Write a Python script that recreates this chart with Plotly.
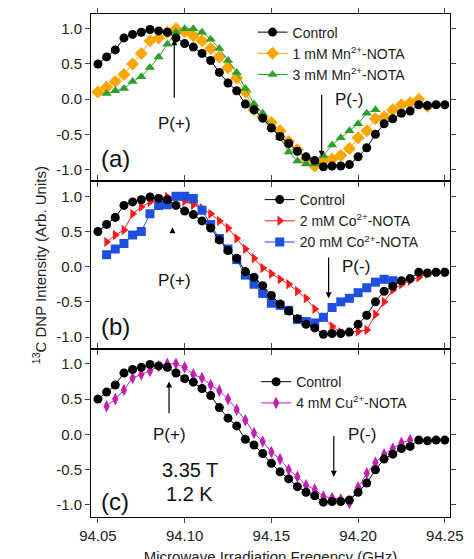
import plotly.graph_objects as go

freq_ctrl = [round(94.05 + 0.005*i, 3) for i in range(41)]
ctrl = [0.5,0.6,0.7,0.87,0.92,0.95,0.99,0.97,0.95,0.87,0.79,0.74,0.65,0.55,0.38,0.23,0.12,-0.07,-0.15,-0.27,
        -0.41,-0.53,-0.63,-0.74,-0.82,-0.87,-0.96,-0.95,-0.95,-0.93,-0.82,-0.69,-0.5,-0.35,-0.28,-0.2,-0.17,-0.08,-0.09,-0.08,-0.08]

mn1 = [0.1,0.17,0.25,0.35,0.5,0.65,0.83,0.87,0.95,1.0,0.96,0.9,0.83,0.72,0.6,0.45,0.3,0.1,-0.15,-0.25,
       -0.33,-0.45,-0.6,-0.72,-0.85,-0.95,-0.88,-0.85,-0.8,-0.7,-0.55,-0.45,-0.28,-0.25,-0.15,-0.08,-0.05,0.0,-0.1]
freq_mn1 = freq_ctrl[:len(mn1)]

mn3 = [0.08,0.12,0.15,0.25,0.32,0.45,0.6,0.78,0.95,1.0,1.0,0.95,0.85,0.72,0.55,0.38,0.15,-0.07,-0.2,-0.4,
       -0.55,-0.75,-0.88,-0.92,-0.92,-0.8,-0.65,-0.55,-0.45,-0.35,-0.2,-0.15]
freq_mn3 = freq_ctrl[1:1+len(mn3)]

co2 = [0.35,0.45,0.52,0.75,0.85,0.92,0.97,0.99,0.97,0.93,0.88,0.83,0.75,0.65,0.55,0.4,0.25,0.12,-0.02,-0.1,
       -0.18,-0.25,-0.35,-0.45,-0.6,-0.72,-0.85,-0.93,-0.93,-0.92,-0.9,-0.68,-0.5,-0.33,-0.25,-0.2,-0.15,-0.1,-0.08,-0.08]
freq_co2 = freq_ctrl[1:1+len(co2)]

co20 = [0.17,0.25,0.33,0.45,0.5,0.75,0.87,0.88,1.0,1.0,0.97,0.8,0.6,0.4,0.25,0.1,-0.12,-0.25,-0.38,-0.52,
        -0.55,-0.62,-0.75,-0.78,-0.8,-0.72,-0.58,-0.5,-0.45,-0.37,-0.3,-0.22,-0.18,-0.2]
freq_co20 = freq_ctrl[1:1+len(co20)]

cu = [0.4,0.5,0.63,0.8,0.85,0.9,0.97,1.0,1.0,0.95,0.85,0.8,0.7,0.62,0.5,0.35,0.2,0.02,-0.1,
      -0.25,-0.35,-0.5,-0.6,-0.72,-0.78,-0.88,-0.9,-0.92,-0.97,-0.75,-0.55,-0.4,-0.28,-0.2,-0.12,-0.08]
freq_cu = freq_ctrl[1:1+len(cu)]

fig = go.Figure()
def add(x, y, name, color, symbol, size, row_axis, legend, rank):
    fig.add_trace(go.Scatter(x=x, y=y, mode="lines+markers", name=name, legendrank=rank,
        line=dict(color=color, width=1), marker=dict(color=color, symbol=symbol, size=size),
        xaxis="x", yaxis=row_axis, legend=legend))

add(freq_mn1, mn1, "1 mM Mn<sup>2+</sup>-NOTA", "#FFA500", "diamond", 10, "y", "legend", 2)
add(freq_mn3, mn3, "3 mM Mn<sup>2+</sup>-NOTA", "#2CA02C", "triangle-up", 9, "y", "legend", 3)
add(freq_ctrl, ctrl, "Control", "black", "circle", 9, "y", "legend", 1)
add(freq_co2, co2, "2 mM Co<sup>2+</sup>-NOTA", "#FF1A1A", "triangle-right", 9, "y2", "legend2", 2)
add(freq_co20, co20, "20 mM Co<sup>2+</sup>-NOTA", "#1F4FE0", "square", 9, "y2", "legend2", 3)
add(freq_ctrl, ctrl, "Control", "black", "circle", 9, "y2", "legend2", 1)
add(freq_cu, cu, "4 mM Cu<sup>2+</sup>-NOTA", "#C020B0", "diamond-tall", 9, "y3", "legend3", 2)
add(freq_ctrl, ctrl, "Control", "black", "circle", 9, "y3", "legend3", 1)

yrange = [-1.17, 1.21]
axcommon = dict(range=yrange, tickvals=[-1.0, -0.5, 0.0, 0.5, 1.0], ticktext=["-1.0", "-0.5", "0.0", "0.5", "1.0"],
                showline=True, linecolor="black", mirror="allticks", ticks="outside", ticklen=5,
                showgrid=False, zeroline=False, tickfont=dict(size=15, color="#222"))
fig.update_layout(
    autosize=True, margin=dict(l=83, r=16, t=0, b=50),
    plot_bgcolor="white", paper_bgcolor="white",
    font=dict(family="Liberation Sans, Arial", color="#222"),
    xaxis=dict(range=[94.046, 94.253], tickvals=[94.05, 94.10, 94.15, 94.20, 94.25],
               ticktext=["94.05", "94.10", "94.15", "94.20", "94.25"], anchor="y3",
               showline=True, linecolor="black", mirror="allticks", ticks="outside", ticklen=5,
               showgrid=False, zeroline=False, tickfont=dict(size=15, color="#222"),
               title=dict(text="Microwave Irradiation Freqency (GHz)", font=dict(size=15), standoff=8)),
    yaxis=dict(domain=[0.667, 1.0], **axcommon),
    yaxis2=dict(domain=[0.334, 0.667], **axcommon),
    yaxis3=dict(domain=[0.0, 0.334], **axcommon),
    legend=dict(x=0.45, y=0.995, xanchor="left", yanchor="top", bgcolor="rgba(0,0,0,0)", font=dict(size=14)),
    legend2=dict(x=0.47, y=0.662, xanchor="left", yanchor="top", bgcolor="rgba(0,0,0,0)", font=dict(size=14)),
    legend3=dict(x=0.46, y=0.30, xanchor="left", yanchor="top", bgcolor="rgba(0,0,0,0)", font=dict(size=14)),
)

for i, ya in [(2, "y"), (3, "y2")]:
    fig.layout[f"xaxis{i}"] = dict(range=[94.046, 94.253], tickvals=[94.05, 94.10, 94.15, 94.20, 94.25],
        showticklabels=False, anchor=ya, overlaying="x", showline=True, linecolor="black", mirror="allticks",
        ticks="outside", ticklen=5, showgrid=False, zeroline=False)
fig.add_trace(go.Scatter(x=[94.1], y=[5], xaxis="x2", yaxis="y", showlegend=False, hoverinfo="skip"))
fig.add_trace(go.Scatter(x=[94.1], y=[5], xaxis="x3", yaxis="y2", showlegend=False, hoverinfo="skip"))

def arrow(yref, x, y0, y1):
    fig.add_annotation(x=x, y=y1, ax=x, ay=y0, xref="x", yref=yref, axref="x", ayref=yref,
                       showarrow=True, arrowhead=2, arrowsize=1, arrowwidth=1.2, arrowcolor="black", text="")
def txt(yref, x, y, t, size=17):
    fig.add_annotation(x=x, y=y, xref="x", yref=yref, text=t, showarrow=False, font=dict(size=size, color="#111"))

arrow("y", 94.094, 0.0, 0.85); txt("y", 94.094, -0.35, "P(+)")
arrow("y", 94.179, 0.08, -0.82); txt("y", 94.195, 0.0, "P(-)")
txt("y", 94.06, -0.85, "(a)", 24)
arrow("y2", 94.093, 0.5, 0.56); txt("y2", 94.094, -0.2, "P(+)")
arrow("y2", 94.183, 0.15, -0.45); txt("y2", 94.199, 0.0, "P(-)")
txt("y2", 94.06, -0.85, "(b)", 24)
arrow("y3", 94.091, 0.28, 0.75); txt("y3", 94.091, 0.0, "P(+)")
arrow("y3", 94.186, 0.0, -0.6); txt("y3", 94.202, 0.0, "P(-)")
txt("y3", 94.06, -0.95, "(c)", 24)
txt("y3", 94.103, -0.5, "3.35 T", 20)
txt("y3", 94.103, -0.85, "1.2 K", 20)

fig.add_annotation(x=-0.175, y=0.5, xref="paper", yref="paper", text="<sup>13</sup>C DNP Intensity (Arb. Units)",
                   textangle=-90, showarrow=False, font=dict(size=15, color="#222"))

fig.write_html("out.html", default_width="100%", default_height="100vh", config={"responsive": True})
